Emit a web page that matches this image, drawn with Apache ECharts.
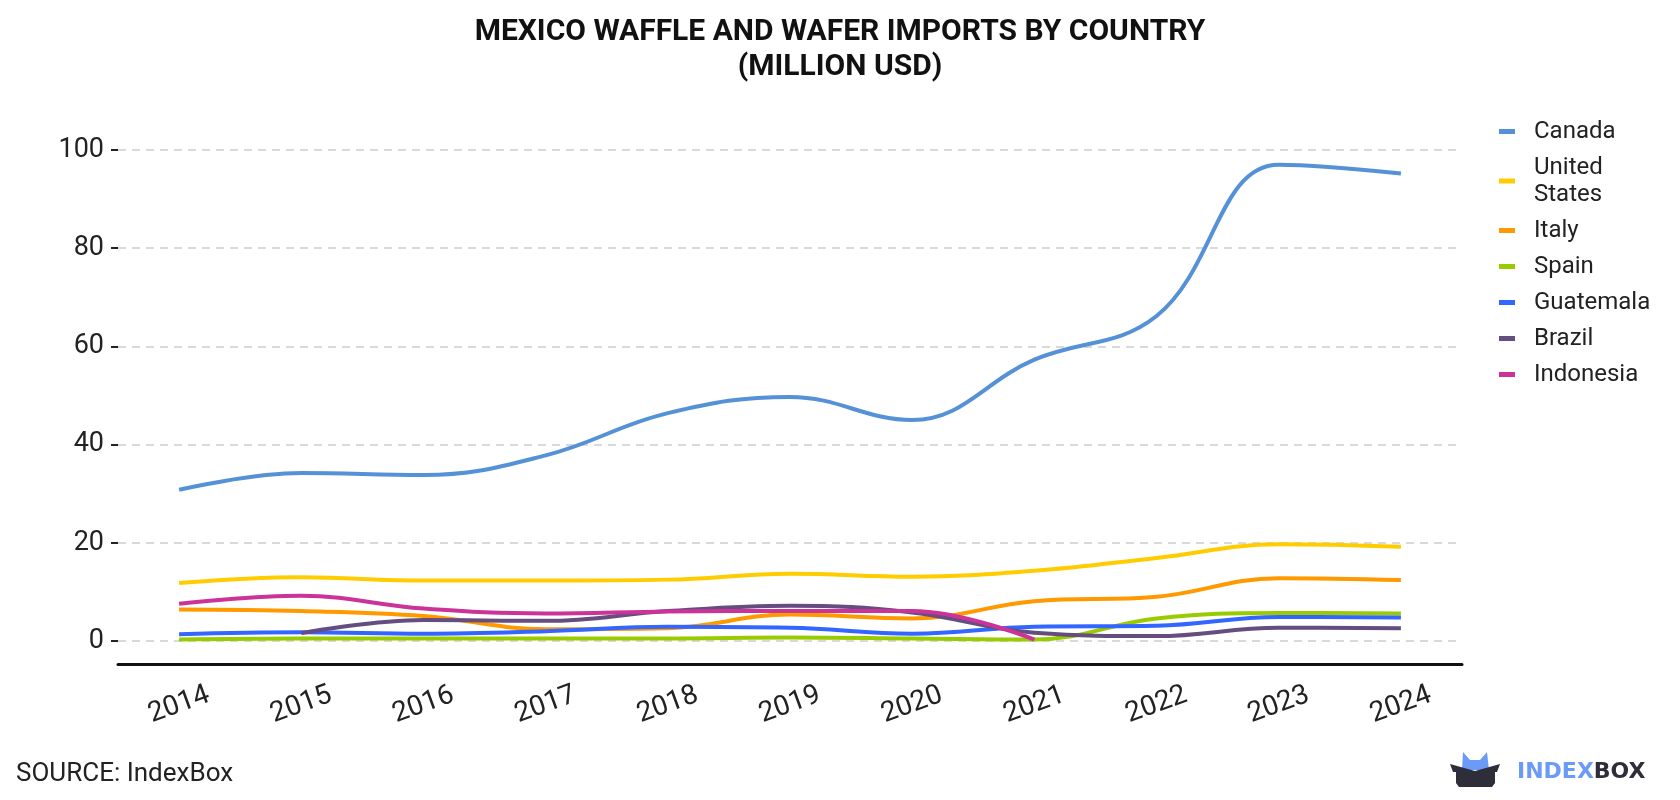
<!DOCTYPE html>
<html>
<head>
<meta charset="utf-8">
<script src="https://cdn.jsdelivr.net/npm/echarts@6/dist/echarts.min.js"></script>
<style>
	html, body { margin: 0; padding: 0; background: #fff; }
	#main { width: 1680px; height: 800px; }
</style>
</head>
<body>
<div id="main"></div>
<script>
var years = ['2014', '2015', '2016', '2017', '2018', '2019', '2020', '2021', '2022', '2023', '2024'];
var canada = [30.8, 34.2, 33.8, 37.8, 46.4, 49.7, 45.0, 57.3, 66.2, 97.0, 95.2];
var unitedStates = [11.8, 13.0, 12.3, 12.3, 12.5, 13.7, 13.1, 14.3, 16.9, 19.7, 19.2];
var italy = [6.4, 6.1, 5.1, 2.4, 2.6, 5.4, 4.6, 8.1, 9.0, 12.8, 12.4];
var spain = [0.3, 0.5, 0.5, 0.5, 0.5, 0.7, 0.5, 0.3, 4.6, 5.7, 5.6];
var guatemala = [1.4, 1.8, 1.5, 2.0, 2.9, 2.7, 1.5, 2.9, 3.1, 4.9, 4.8];
var brazil = [null, 1.6, 4.3, 4.1, 6.1, 7.2, 5.8, 1.7, 1.0, 2.7, 2.6];
var indonesia = [7.6, 9.2, 6.6, 5.6, 6.0, 6.1, 6.1, 0.3, null, null, null];

var names = ['Canada', 'United States', 'Italy', 'Spain', 'Guatemala', 'Brazil', 'Indonesia'];
var colors = ['#5591d7', '#ffcc00', '#ff9900', '#99cc00', '#3366ff', '#664d80', '#cc3399'];
var values = [canada, unitedStates, italy, spain, guatemala, brazil, indonesia];

var myChart = echarts.init(document.getElementById('main'));

var series = [];
for (let i in names) {
	series.push({
		name: names[i],
		type: 'line',
		data: values[i],
		smooth: 0.4,
		clip: false,
		showSymbol: false,
		symbol: 'none',
		lineStyle: { width: 4, color: colors[i] },
		itemStyle: { color: colors[i] }
	});
}

var option = {
	animation: false,
	color: colors,
	title: {
		text: 'MEXICO WAFFLE AND WAFER IMPORTS BY COUNTRY\n(MILLION USD)',
		left: 'center',
		top: 10,
		textStyle: {
			fontFamily: 'Roboto',
			fontWeight: 'bold',
			fontSize: 30,
			lineHeight: 35,
			color: '#111'
		}
	},
	legend: {
		orient: 'vertical',
		left: 1494,
		top: 113,
		icon: 'rect',
		itemWidth: 16,
		itemHeight: 5,
		itemGap: 9,
		textStyle: {
			fontFamily: 'Roboto',
			fontSize: 24,
			color: '#222',
			width: 130,
			overflow: 'break',
			lineHeight: 27,
			padding: [0, 0, 0, 14]
		},
		data: names
	},
	grid: {
		left: 118,
		right: 218,
		top: 150,
		bottom: 159
	},
	xAxis: {
		type: 'category',
		data: years,
		offset: 23,
		axisLine: { onZero: false, lineStyle: { color: '#111', width: 3 } },
		axisTick: { alignWithLabel: true, length: 7, lineStyle: { color: '#111', width: 2 } },
		axisLabel: {
			rotate: 20,
			margin: 41,
			align: 'center',
			verticalAlign: 'middle',
			fontFamily: 'Roboto',
			fontSize: 28,
			color: '#222'
		}
	},
	yAxis: {
		type: 'value',
		min: 0,
		max: 100,
		interval: 20,
		axisLine: { show: false },
		axisTick: { show: true, length: 7, lineStyle: { color: '#222', width: 2 } },
		axisLabel: {
			margin: 14,
			fontFamily: 'Roboto',
			fontSize: 27,
			color: '#222'
		},
		splitLine: { lineStyle: { color: '#d9d9d9', width: 2, type: [8, 6] } }
	},
	graphic: [
		{
			type: 'text',
			left: 16,
			top: 761,
			style: { text: 'SOURCE: IndexBox', fontFamily: 'Roboto', fontSize: 26, fill: '#222' }
		},
		{
			type: 'polygon',
			shape: { points: [[1462, 770], [1463, 752], [1470, 760], [1480, 760], [1487, 752], [1489, 770]] },
			style: { fill: '#6b9bf7' }
		},
		{
			type: 'polygon',
			shape: { points: [[1450, 764], [1475, 771], [1500, 764], [1497, 772], [1495, 772], [1495, 783], [1492, 787], [1459, 787], [1456, 783], [1456, 772], [1453, 772]] },
			style: { fill: '#2d2e3a' }
		},
		{
			type: 'text',
			left: 1517,
			top: 761,
			style: {
				text: '{a|INDEX}{b|BOX}',
				rich: {
					a: { fontFamily: 'DejaVu Sans', fontWeight: 'bold', fontSize: 22, fill: '#6b9bf7' },
					b: { fontFamily: 'DejaVu Sans', fontWeight: 'bold', fontSize: 22, fill: '#2d2e3a' }
				}
			}
		}
	],
	series: series
};
myChart.setOption(option);
</script>
</body>
</html>
